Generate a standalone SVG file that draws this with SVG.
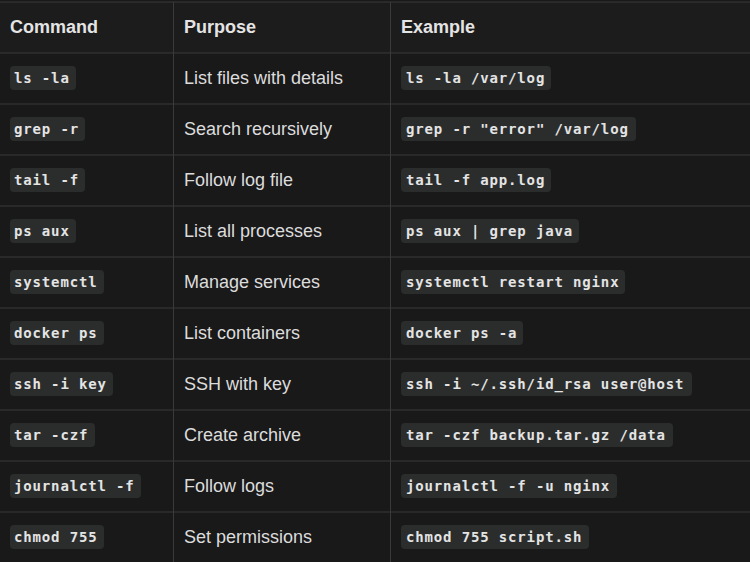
<svg xmlns="http://www.w3.org/2000/svg" width="750" height="562" viewBox="0 0 750 562">
<style>
.h{font-family:"Liberation Sans",Arial,sans-serif;font-size:18px;font-weight:bold;fill:#e4e4e4}
.t{font-family:"Liberation Sans",Arial,sans-serif;font-size:18px;fill:#dcdcdc}
.c{font-family:"DejaVu Sans Mono",monospace;font-size:14px;font-weight:bold;fill:#e4e4e4;letter-spacing:0.85px}
.b{fill:#2b2d2d}
.l{stroke:#3a3a3a;stroke-width:1}
</style>
<rect width="750" height="562" fill="#191919"/>
<rect x="0" y="2" width="750" height="51" fill="#1c1c1c"/>
<g id="grid" class="l">
<line x1="0" y1="2" x2="750" y2="2"/>
<line x1="0" y1="53" x2="750" y2="53"/>
<line x1="0" y1="104" x2="750" y2="104"/>
<line x1="0" y1="155" x2="750" y2="155"/>
<line x1="0" y1="206" x2="750" y2="206"/>
<line x1="0" y1="257" x2="750" y2="257"/>
<line x1="0" y1="308" x2="750" y2="308"/>
<line x1="0" y1="359" x2="750" y2="359"/>
<line x1="0" y1="410" x2="750" y2="410"/>
<line x1="0" y1="461" x2="750" y2="461"/>
<line x1="0" y1="512" x2="750" y2="512"/>
<line x1="173.5" y1="2" x2="173.5" y2="562"/>
<line x1="390.5" y1="2" x2="390.5" y2="562"/>
</g>
<g id="header">
<text class="h" x="10" y="33">Command</text>
<text class="h" x="184" y="33">Purpose</text>
<text class="h" x="401" y="33">Example</text>
</g>
<g id="rows">
<g id="r1"><rect class="b" x="10" y="66" width="66" height="24" rx="4"/><text class="c" x="14" y="83">ls -la</text><text class="t" x="184" y="84">List files with details</text><rect class="b" x="401" y="66" width="150" height="24" rx="4"/><text class="c" x="406" y="83">ls -la /var/log</text></g>
<g id="r2" transform="translate(0,51)"><rect class="b" x="10" y="66" width="75" height="24" rx="4"/><text class="c" x="14" y="83">grep -r</text><text class="t" x="184" y="84">Search recursively</text><rect class="b" x="401" y="66" width="235" height="24" rx="4"/><text class="c" x="406" y="83">grep -r "error" /var/log</text></g>
<g id="r3" transform="translate(0,102)"><rect class="b" x="10" y="66" width="75" height="24" rx="4"/><text class="c" x="14" y="83">tail -f</text><text class="t" x="184" y="84">Follow log file</text><rect class="b" x="401" y="66" width="150" height="24" rx="4"/><text class="c" x="406" y="83">tail -f app.log</text></g>
<g id="r4" transform="translate(0,153)"><rect class="b" x="10" y="66" width="66" height="24" rx="4"/><text class="c" x="14" y="83">ps aux</text><text class="t" x="184" y="84">List all processes</text><rect class="b" x="401" y="66" width="178" height="24" rx="4"/><text class="c" x="406" y="83">ps aux | grep java</text></g>
<g id="r5" transform="translate(0,204)"><rect class="b" x="10" y="66" width="94" height="24" rx="4"/><text class="c" x="14" y="83">systemctl</text><text class="t" x="184" y="84">Manage services</text><rect class="b" x="401" y="66" width="224" height="24" rx="4"/><text class="c" x="406" y="83">systemctl restart nginx</text></g>
<g id="r6" transform="translate(0,255)"><rect class="b" x="10" y="66" width="94" height="24" rx="4"/><text class="c" x="14" y="83">docker ps</text><text class="t" x="184" y="84">List containers</text><rect class="b" x="401" y="66" width="122" height="24" rx="4"/><text class="c" x="406" y="83">docker ps -a</text></g>
<g id="r7" transform="translate(0,306)"><rect class="b" x="10" y="66" width="103" height="24" rx="4"/><text class="c" x="14" y="83">ssh -i key</text><text class="t" x="184" y="84">SSH with key</text><rect class="b" x="401" y="66" width="291" height="24" rx="4"/><text class="c" x="406" y="83">ssh -i ~/.ssh/id_rsa user@host</text></g>
<g id="r8" transform="translate(0,357)"><rect class="b" x="10" y="66" width="85" height="24" rx="4"/><text class="c" x="14" y="83">tar -czf</text><text class="t" x="184" y="84">Create archive</text><rect class="b" x="401" y="66" width="272" height="24" rx="4"/><text class="c" x="406" y="83">tar -czf backup.tar.gz /data</text></g>
<g id="r9" transform="translate(0,408)"><rect class="b" x="10" y="66" width="131" height="24" rx="4"/><text class="c" x="14" y="83">journalctl -f</text><text class="t" x="184" y="84">Follow logs</text><rect class="b" x="401" y="66" width="216" height="24" rx="4"/><text class="c" x="406" y="83">journalctl -f -u nginx</text></g>
<g id="r10" transform="translate(0,459)"><rect class="b" x="10" y="66" width="94" height="24" rx="4"/><text class="c" x="14" y="83">chmod 755</text><text class="t" x="184" y="84">Set permissions</text><rect class="b" x="401" y="66" width="188" height="24" rx="4"/><text class="c" x="406" y="83">chmod 755 script.sh</text></g>
</g>
</svg>
